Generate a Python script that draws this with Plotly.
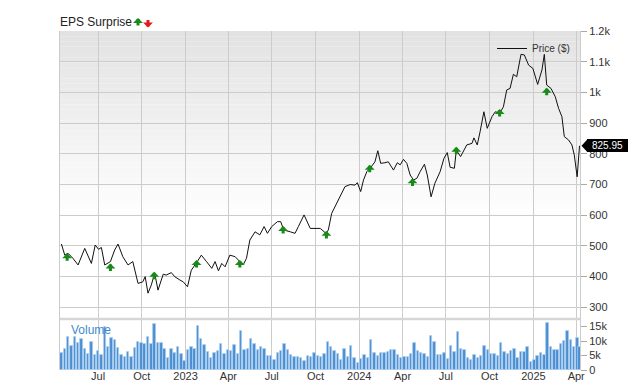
import pandas as pd
import plotly.graph_objects as go

# ---------------- data ----------------
price_dates = [
    "2022-04-15", "2022-04-22", "2022-04-29", "2022-05-09", "2022-05-20", "2022-06-03", "2022-06-17",
    "2022-06-25", "2022-07-02", "2022-07-08", "2022-07-15", "2022-07-27", "2022-08-05", "2022-08-12",
    "2022-08-22", "2022-09-02", "2022-09-12", "2022-09-23", "2022-10-03", "2022-10-08", "2022-10-14",
    "2022-10-21", "2022-10-28", "2022-11-04", "2022-11-15", "2022-11-21", "2022-12-02", "2022-12-09",
    "2022-12-20", "2022-12-27", "2023-01-05", "2023-01-13", "2023-01-24", "2023-02-03", "2023-02-14",
    "2023-02-25", "2023-03-04", "2023-03-11", "2023-03-18", "2023-03-25", "2023-04-04", "2023-04-15",
    "2023-04-25", "2023-05-02", "2023-05-09", "2023-05-16", "2023-05-27", "2023-06-06", "2023-06-15",
    "2023-06-22", "2023-07-01", "2023-07-13", "2023-07-20", "2023-07-26", "2023-08-09", "2023-08-19",
    "2023-08-26", "2023-09-07", "2023-09-20", "2023-09-30", "2023-10-11", "2023-10-23", "2023-10-28",
    "2023-11-04", "2023-11-11", "2023-11-22", "2023-12-02", "2023-12-13", "2023-12-23", "2023-12-28",
    "2024-01-04", "2024-01-10", "2024-01-17", "2024-01-24", "2024-02-03", "2024-02-09", "2024-02-15",
    "2024-02-24", "2024-03-02", "2024-03-13", "2024-03-21", "2024-03-27", "2024-04-03", "2024-04-10",
    "2024-04-17", "2024-04-24", "2024-05-01", "2024-05-08", "2024-05-17", "2024-05-23", "2024-05-31",
    "2024-06-08", "2024-06-19", "2024-06-27", "2024-07-04", "2024-07-10", "2024-07-19", "2024-07-23",
    "2024-08-01", "2024-08-14", "2024-08-25", "2024-08-29", "2024-09-05", "2024-09-11", "2024-09-19",
    "2024-09-26", "2024-10-06", "2024-10-13", "2024-10-22", "2024-10-30", "2024-11-06", "2024-11-13",
    "2024-11-20", "2024-11-27", "2024-12-06", "2024-12-13", "2024-12-22", "2024-12-31", "2025-01-10",
    "2025-01-19", "2025-01-24", "2025-01-29", "2025-02-07", "2025-02-16", "2025-02-23", "2025-03-02",
    "2025-03-07", "2025-03-16", "2025-03-23", "2025-03-28", "2025-04-03", "2025-04-08",
]
price_values = [
    506, 470, 476, 460, 438, 492, 443,
    503, 489, 495, 438, 449, 487, 506,
    465, 438, 449, 378, 383, 400, 346,
    373, 411, 356, 408, 405, 413, 400,
    389, 383, 367, 421, 445, 470, 449,
    427, 449, 419, 443, 432, 470, 465,
    449, 438, 460, 519, 546, 536, 563,
    541, 563, 579, 579, 552, 546, 541,
    563, 601, 557, 557, 557, 541, 552,
    606, 628, 660, 693, 700, 698, 706,
    677, 715, 742, 753, 774, 810, 769,
    771, 774, 747, 771, 764, 782, 769,
    731, 715, 720, 742, 766, 731, 660,
    704, 742, 785, 804, 756, 753, 812,
    791, 829, 834, 852, 829, 872, 937,
    883, 921, 937, 932, 953, 1008, 1013,
    1059, 1051, 1124, 1122, 1089, 1078, 1026,
    1073, 1124, 1024, 1013, 986, 948, 921,
    856, 845, 829, 796, 725, 825.95,
]

# EPS surprise (all beats -> green up arrows)
eps_dates = ["2022-04-27", "2022-07-27", "2022-10-27", "2023-01-24", "2023-04-25", "2023-07-25",
             "2023-10-24", "2024-01-23", "2024-04-22", "2024-07-23", "2024-10-22", "2025-01-29"]
eps_prices = [476, 443, 416, 454, 454, 565, 549, 764, 720, 823, 946, 1015]

# weekly volume (thousands)
volume_k = [
    5.7, 7.1, 11.5, 8.3, 11.3, 9.2, 10.6, 7.1, 5.5, 9.8,
    5.2, 6.4, 5.2, 15.0, 7.8, 10.9, 10.3, 7.5, 5.2, 4.6,
    6.2, 4.4, 7.6, 9.5, 9.2, 9.0, 11.5, 9.0, 15.9, 9.2,
    9.4, 7.1, 4.0, 7.1, 6.0, 7.8, 5.5, 3.2, 6.9, 7.8,
    7.2, 15.2, 10.6, 8.6, 6.2, 4.3, 6.0, 6.4, 9.0, 5.5,
    6.9, 6.7, 8.5, 5.5, 13.3, 6.9, 7.4, 10.8, 8.9, 6.9,
    7.9, 7.2, 4.8, 4.8, 3.4, 5.7, 6.4, 9.0, 6.9, 5.2,
    4.4, 4.4, 4.3, 3.1, 4.8, 4.6, 5.7, 4.8,
    4.6, 5.4, 9.5, 8.0, 6.6, 5.5, 3.4, 7.2, 4.6, 8.3,
    4.3, 2.3, 3.7, 5.2, 4.3, 10.3, 5.7, 4.8, 6.0, 6.0,
    6.1, 6.9, 7.0, 5.1, 4.0, 4.4, 4.4, 5.4, 9.2, 6.6,
    5.7, 5.6, 4.6, 11.8, 9.7, 5.3, 5.3, 6.0, 3.8, 8.3,
    6.1, 13.1, 7.4, 6.9, 4.1, 3.4, 5.1, 4.0, 4.8, 8.3,
    6.9, 5.5, 5.5, 4.8, 9.2, 6.1, 5.5, 6.4, 7.1, 4.1,
    6.3, 6.2, 7.9, 2.8, 3.4, 4.9, 6.0, 5.1, 16.1, 7.8,
    6.9, 6.8, 9.0, 10.1, 13.3, 10.3, 7.8, 11.0, 8.0,
]
volume_dates = list(pd.date_range("2022-04-15", periods=len(volume_k) - 1, freq="7D")) + [pd.Timestamp("2025-04-08")]

x_tick_dates = ["2022-07-01", "2022-10-01", "2023-01-01", "2023-04-01", "2023-07-01", "2023-10-01",
                "2024-01-01", "2024-04-01", "2024-07-01", "2024-10-01", "2025-01-01", "2025-04-01"]
x_tick_text = ["Jul", "Oct", "2023", "Apr", "Jul", "Oct", "2024", "Apr", "Jul", "Oct", "2025", "Apr"]
price_ticks = [300, 400, 500, 600, 700, 800, 900, 1000, 1100, 1200]
price_tick_text = ["300", "400", "500", "600", "700", "800", "900", "1k", "1.1k", "1.2k"]
vol_ticks = [0, 5, 10, 15]
vol_tick_text = ["0", "5k", "10k", "15k"]
last_price = 825.95

# ---------------- layout geometry ----------------
W, H = 640, 382
ML, MR, MT, MB = 60, 60, 31, 12
PH = H - MT - MB          # plot height in px
PW = W - ML - MR


def py(px_y):             # pixel y -> paper y
    return (H - MB - px_y) / PH


def px(px_x):             # pixel x -> paper x
    return (px_x - ML) / PW


split = py(319)
FONT = "Liberation Sans, Arial, sans-serif"
TXT = "#333333"
GREEN = "#178a17"
RED = "#e41a1a"

fig = go.Figure()

fig.add_trace(go.Scatter(
    x=price_dates, y=price_values, mode="lines", name="Price ($)",
    line=dict(color="#111111", width=1), xaxis="x", yaxis="y", showlegend=True,
    hoverinfo="skip",
))
fig.add_trace(go.Bar(
    x=volume_dates, y=volume_k, name="Volume", xaxis="x", yaxis="y2",
    marker=dict(color="#4a8fd1", line=dict(color="#a9cdef", width=0.8)),
    width=5 * 86400000, showlegend=False, hoverinfo="skip",
))

shapes = []
# vertical background gradient in the top part of the price panel
n = 36
top, bottom = 31, 220
for i in range(n):
    y0 = top + (bottom - top) * i / n
    y1 = top + (bottom - top) * (i + 1) / n
    c = int(round(226 + (255 - 226) * (i + 0.5) / n))
    shapes.append(dict(type="rect", xref="paper", yref="paper", x0=0, x1=1, y0=py(y1), y1=py(y0),
                       fillcolor=f"rgb({c},{c},{c})", line=dict(width=0), layer="below"))
# separator between price and volume panels
shapes.append(dict(type="line", xref="paper", yref="paper", x0=0, x1=1, y0=split, y1=split,
                   line=dict(color="#d6d6d6", width=2.5)))
# pointer of the last-price label
half = 6.5 / ((319 - 31) / (1200 - 262))
shapes.append(dict(type="path", xref="paper", yref="y",
                   path=f"M {px(581.5)},{last_price} L {px(587.5)},{last_price + half} L {px(587.5)},{last_price - half} Z",
                   fillcolor="black", line=dict(width=0)))

ARW = dict(showarrow=True, arrowhead=1, arrowsize=0.55, arrowwidth=3)
annotations = []
annotations.append(dict(text="EPS Surprise", xref="paper", yref="paper", x=px(59), y=py(22), xanchor="left",
                        yanchor="middle", showarrow=False, borderpad=0,
                        font=dict(family=FONT, size=12, color="#222222")))
annotations.append(dict(text="", xref="paper", yref="paper", x=px(138), y=py(18), ax=0, ay=9,
                        arrowcolor=GREEN, **ARW))
annotations.append(dict(text="", xref="paper", yref="paper", x=px(148), y=py(27.5), ax=0, ay=-9,
                        arrowcolor=RED, **ARW))
for d, p in zip(eps_dates, eps_prices):
    annotations.append(dict(text="", xref="x", yref="y", x=d, y=p, ax=0, ay=9, arrowcolor=GREEN, **ARW))
annotations.append(dict(text="Volume", xref="paper", yref="paper", x=px(69), y=py(330), xanchor="left",
                        yanchor="middle", showarrow=False, font=dict(family=FONT, size=12, color="#3f8bd0")))
annotations.append(dict(text=f"{last_price:.2f}", xref="paper", yref="y", x=px(587), y=last_price,
                        xanchor="left", yanchor="middle", showarrow=False, bgcolor="black",
                        width=41, height=13, borderpad=0, borderwidth=0,
                        font=dict(family=FONT, size=10, color="white")))

fig.update_layout(
    width=W, height=H,
    margin=dict(l=ML, r=MR, t=MT, b=MB),
    paper_bgcolor="white", plot_bgcolor="white",
    font=dict(family=FONT, size=11, color=TXT),
    bargap=0,
    showlegend=True,
    legend=dict(x=px(492), y=py(34), xanchor="left", yanchor="top", bgcolor="rgba(0,0,0,0)",
                font=dict(family=FONT, size=10, color=TXT), itemwidth=30, borderwidth=0),
    xaxis=dict(type="date", range=["2022-04-12", "2025-04-09"], anchor="y2", automargin=False,
               tickvals=x_tick_dates, ticktext=x_tick_text, ticks="", showgrid=True,
               ticklabelstandoff=-2,
               gridcolor="#cccccc", gridwidth=1, zeroline=False, showline=False,
               tickfont=dict(family=FONT, size=11, color=TXT)),
    yaxis=dict(domain=[split, 1], range=[262, 1200], side="right", anchor="x", automargin=False,
               tickvals=price_ticks, ticktext=price_tick_text, ticks="outside", ticklen=6,
               tickcolor="#aaaaaa", showgrid=True, gridcolor="#cccccc", gridwidth=1,
               zeroline=False, showline=True, mirror=True, linecolor="#cccccc",
               tickfont=dict(family=FONT, size=11, color=TXT)),
    yaxis2=dict(domain=[0, split], range=[0, 17.6], side="right", anchor="x", automargin=False,
                tickvals=vol_ticks, ticktext=vol_tick_text, ticks="outside", ticklen=6,
                tickcolor="#aaaaaa", showgrid=False, zeroline=False, showline=True, mirror=True,
                linecolor="#cccccc", tickfont=dict(family=FONT, size=11, color=TXT)),
    shapes=shapes,
    annotations=annotations,
)

fig.write_html("out.html")
